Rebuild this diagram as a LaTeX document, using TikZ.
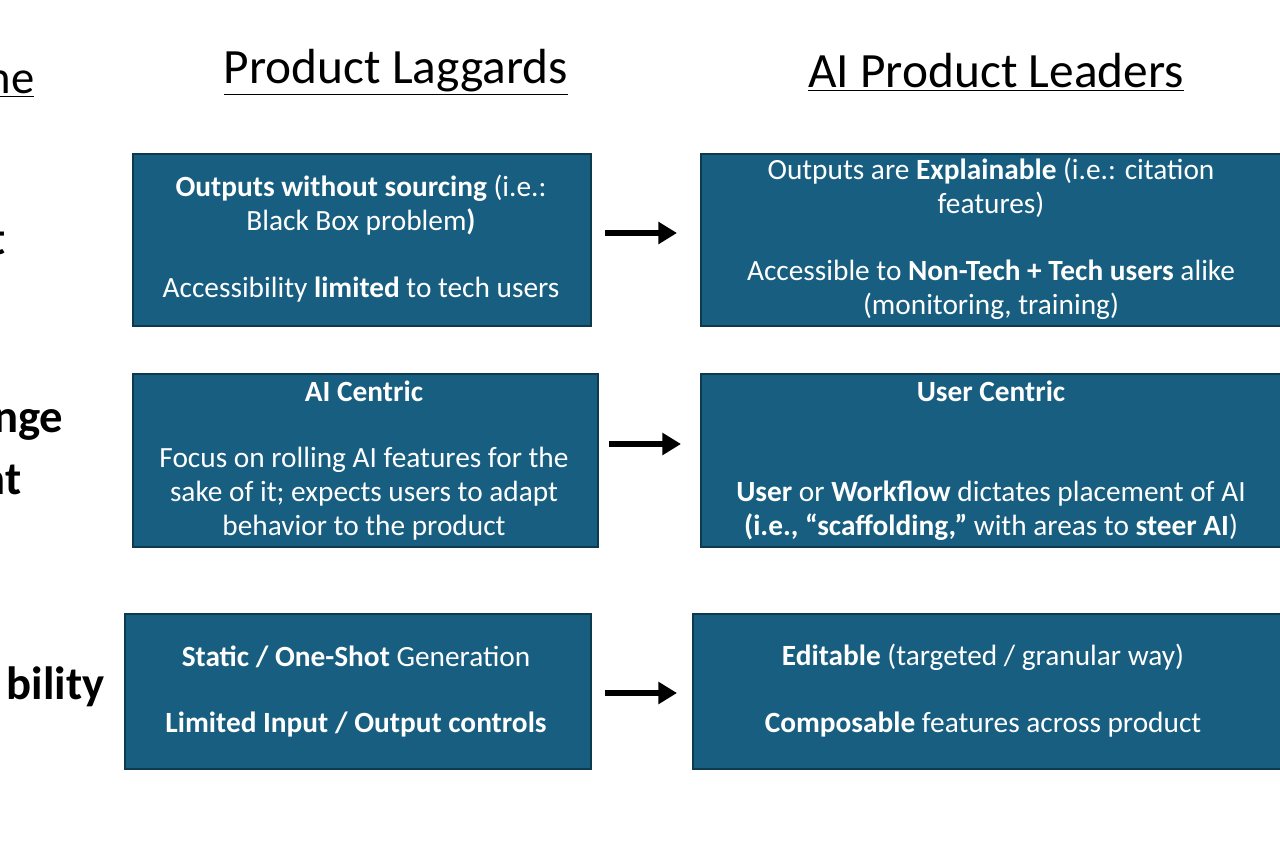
\documentclass[tikz,border=0pt]{standalone}
\usepackage{fontspec}
\setmainfont{Carlito}
\usetikzlibrary{arrows.meta}
\definecolor{boxblue}{HTML}{175E80}
\definecolor{boxedge}{HTML}{0E3A50}
\begin{document}
\begin{tikzpicture}[x=0.75pt,y=-0.75pt,
  box/.style={draw=boxedge,line width=1.5pt,fill=boxblue,inner sep=0,anchor=north west},
  txt/.style={text=white,align=center,font=\fontsize{22}{25.5}\selectfont},
  head/.style={font=\fontsize{37}{40}\selectfont},
  side/.style={font=\fontsize{35}{38}\selectfont\bfseries,anchor=east},
  arr/.style={-{Triangle[length=14pt,width=16pt]},line width=3.8pt}]
\useasboundingbox (0,0) rectangle (1280,853);
\clip (0,0) rectangle (1280,853);
% headings
\node[head] (h1) at (396,72) {\underline{Product Laggards}};
\node[head] (h2) at (996,72) {\underline{AI Product Leaders}};
\node[side,font=\fontsize{35}{38}\selectfont] (s0) at (39,84) {\underline{ne}};
\node[side] (s1) at (10,240) {t};
\node[side] (s2) at (68,425) {nge};
\node[side] (s3) at (26,480) {nt};
\node[side] (s4) at (109,687) {bility};
% boxes
\node[box,minimum width=458*0.75pt,minimum height=172*0.75pt] (l1) at (132,153) {};
\node[box,minimum width=620*0.75pt,minimum height=172*0.75pt] (r1) at (700,153) {};
\node[box,minimum width=465*0.75pt,minimum height=173*0.75pt] (l2) at (132,373) {};
\node[box,minimum width=620*0.75pt,minimum height=173*0.75pt] (r2) at (700,373) {};
\node[box,minimum width=466*0.75pt,minimum height=155*0.75pt] (l3) at (124,613) {};
\node[box,minimum width=628*0.75pt,minimum height=155*0.75pt] (r3) at (692,613) {};
% texts
\node[txt] (t1) at (361,205) {\textbf{Outputs without sourcing} (i.e.:\\ Black Box problem\textbf{)}};
\node[txt] (t2) at (361,290) {Accessibility \textbf{limited} to tech users};
\node[txt] (t3) at (991,188) {Outputs are \textbf{Explainable} (i.e.: citation\\ features)};
\node[txt] (t4) at (991,290) {Accessible to \textbf{Non-Tech + Tech users} alike\\ (monitoring, training)};
\node[txt] (t5) at (364,391) {\textbf{AI Centric}};
\node[txt] (t6) at (364,494) {Focus on rolling AI features for the\\ sake of it; expects users to adapt\\ behavior to the product};
\node[txt] (t7) at (991,391) {\textbf{User Centric}};
\node[txt] (t8) at (991,511) {\textbf{User} or \textbf{Workflow} dictates placement of AI\\ \textbf{(i.e., “scaffolding,”} with areas to \textbf{steer AI})};
\node[txt] (t9) at (356,657) {\textbf{Static / One-Shot} Generation};
\node[txt] (t10) at (356,725) {\textbf{Limited Input / Output controls}};
\node[txt] (t11) at (983,657) {\textbf{Editable} (targeted / granular way)};
\node[txt] (t12) at (983,725) {\textbf{Composable} features across product};
% arrows
\coordinate (a1s) at (605,233); \coordinate (a1e) at (677,233);
\coordinate (a2s) at (609,444); \coordinate (a2e) at (681,444);
\coordinate (a3s) at (605,693); \coordinate (a3e) at (677,693);
\draw[arr] (a1s) -- (a1e);
\draw[arr] (a2s) -- (a2e);
\draw[arr] (a3s) -- (a3e);
\end{tikzpicture}
\end{document}
